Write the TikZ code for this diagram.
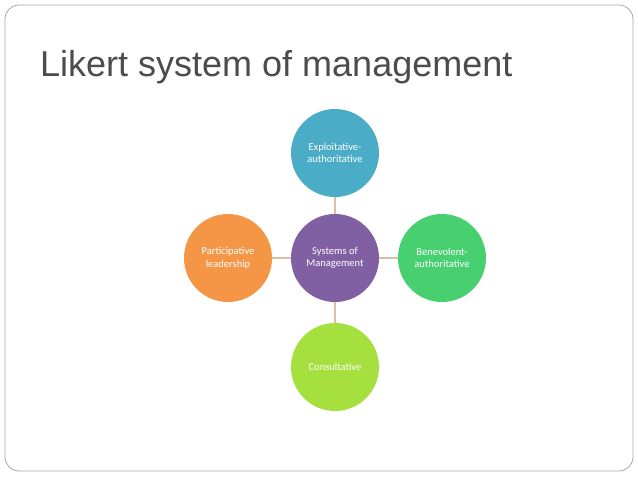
\documentclass[tikz,border=0pt]{standalone}
\usepackage{fontspec}
\setmainfont{Liberation Sans}
\newfontfamily\carlitofont{Carlito}
\begin{document}
\begin{tikzpicture}[x=1pt,y=-1pt,
  bub/.style={circle,minimum size=88pt,inner sep=0pt,text=white,align=center,font=\carlitofont\fontsize{10.5}{12.5}\selectfont},
  link/.style={draw={rgb,255:red,222;green,190;blue,160},line width=1.2pt}]
\useasboundingbox (0,0) rectangle (638,478);
\draw[gray!70,line width=0.8pt,rounded corners=14pt] (5,5) rectangle (633,471);
\node[anchor=base west,text=black!70,font=\fontsize{36}{40}\selectfont,inner sep=0pt] (title) at (40,77) {Likert system of management};
\node[bub,fill={rgb,255:red,74;green,172;blue,198}] (top) at (335,153) {Exploitative-\\authoritative};
\node[bub,fill={rgb,255:red,128;green,96;blue,162}] (c) at (335,258) {Systems of\\Management};
\node[bub,fill={rgb,255:red,245;green,150;blue,70}] (l) at (228,258) {Participative\\leadership};
\node[bub,fill={rgb,255:red,72;green,208;blue,112}] (r) at (442,258) {Benevolent-\\authoritative};
\node[bub,fill={rgb,255:red,166;green,224;blue,62}] (b) at (335,367) {Consultative};
\draw[link] (c) -- (top);
\draw[link] (c) -- (l);
\draw[link] (c) -- (r);
\draw[link] (c) -- (b);
\end{tikzpicture}
\end{document}
